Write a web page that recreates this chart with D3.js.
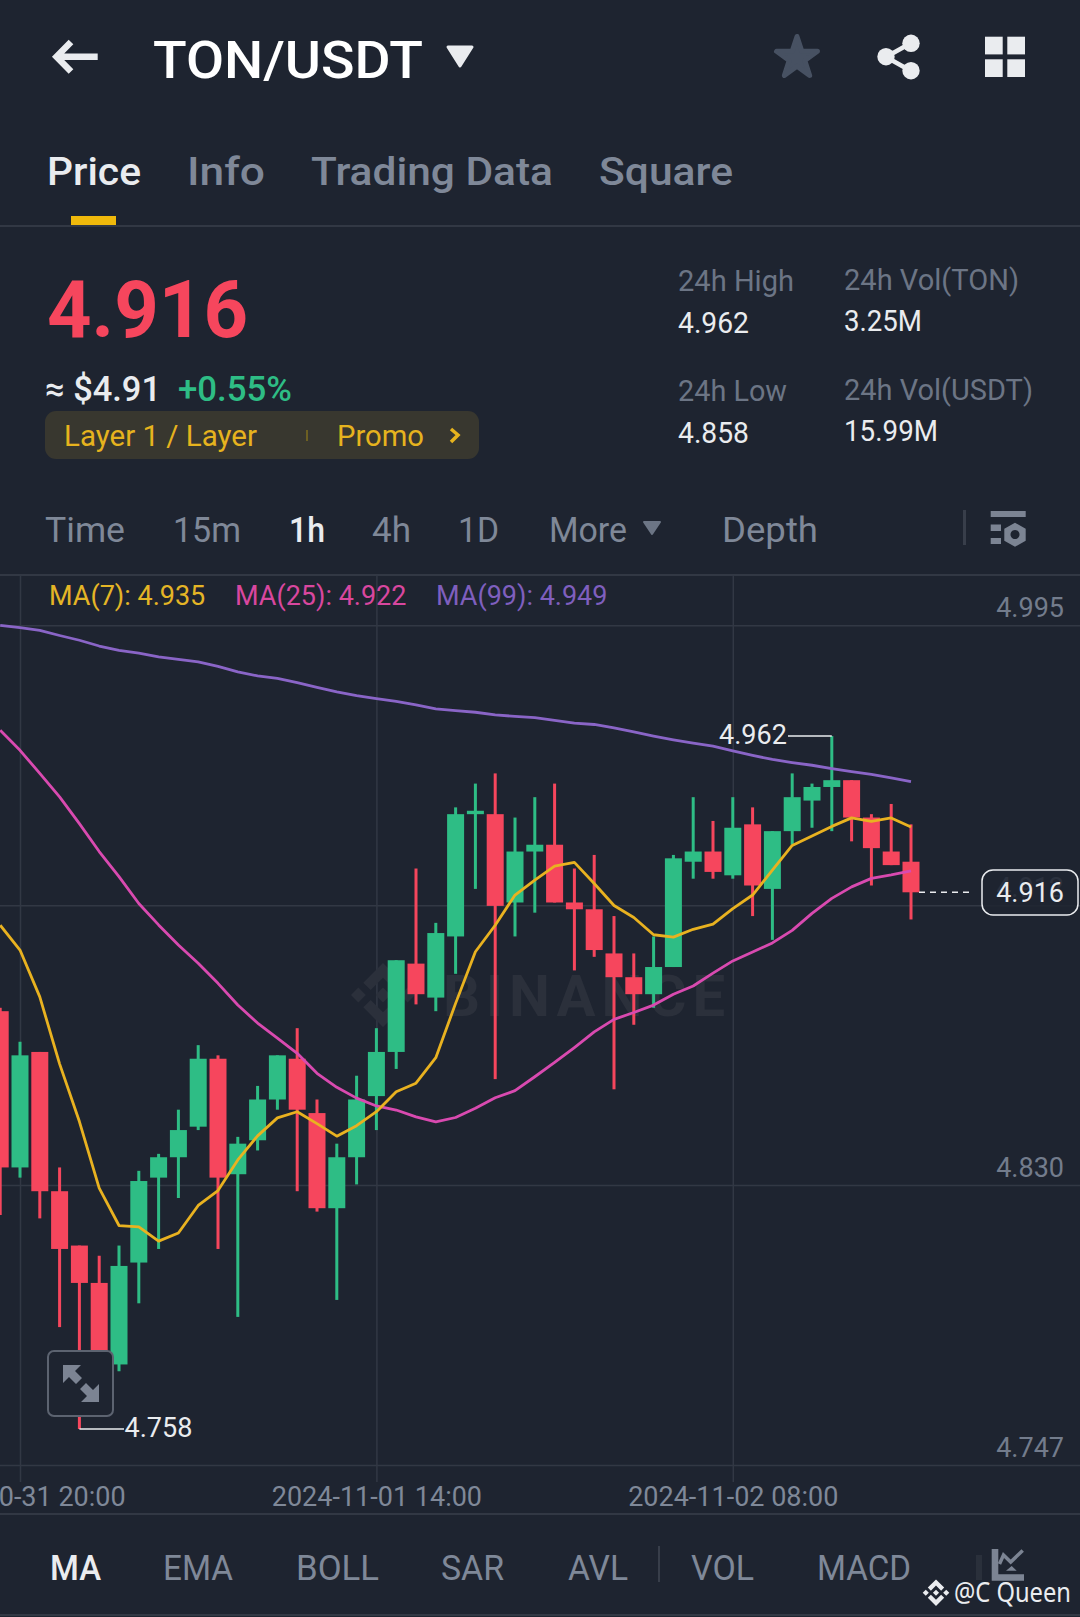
<!DOCTYPE html>
<html>
<head>
<meta charset="utf-8">
<script src="https://cdn.jsdelivr.net/npm/d3@7/dist/d3.min.js"></script>
<style>
  html, body { margin: 0; padding: 0; background: #1e2430; overflow: hidden; }
  svg { display: block; font-family: Roboto, sans-serif; }
</style>
</head>
<body>
<svg id="chart" width="1080" height="1617"></svg>
<script>
// 1h candles, left to right
var opens = [4.881,4.835,4.869,4.828,4.812,4.801,4.777,4.807,4.832,4.838,4.847,4.867,4.833,4.843,4.855,4.867,4.851,4.823,4.838,4.856,4.869,4.895,4.885,4.903,4.939,4.939,4.913,4.928,4.930,4.913,4.911,4.898,4.891,4.886,4.894,4.925,4.928,4.921,4.936,4.917,4.934,4.943,4.947,4.949,4.938,4.928,4.925];
var highs = [4.882,4.872,4.869,4.835,4.812,4.809,4.812,4.834,4.839,4.852,4.871,4.868,4.844,4.859,4.868,4.876,4.855,4.842,4.862,4.876,4.896,4.923,4.907,4.941,4.948,4.951,4.938,4.944,4.948,4.923,4.927,4.909,4.898,4.903,4.927,4.944,4.937,4.944,4.941,4.934,4.951,4.948,4.962,4.949,4.939,4.942,4.936];
var lows = [4.821,4.832,4.820,4.788,4.758,4.773,4.775,4.795,4.811,4.826,4.846,4.811,4.791,4.840,4.852,4.828,4.822,4.796,4.830,4.846,4.864,4.883,4.881,4.892,4.917,4.861,4.903,4.910,4.913,4.893,4.897,4.858,4.877,4.882,4.894,4.920,4.920,4.920,4.909,4.902,4.930,4.935,4.934,4.931,4.918,4.924,4.908];
var closes = [4.835,4.868,4.828,4.811,4.801,4.777,4.806,4.831,4.838,4.846,4.867,4.832,4.842,4.855,4.868,4.852,4.823,4.838,4.855,4.869,4.896,4.886,4.904,4.939,4.940,4.912,4.928,4.930,4.913,4.911,4.899,4.891,4.886,4.894,4.926,4.928,4.922,4.935,4.918,4.934,4.944,4.947,4.949,4.938,4.929,4.924,4.916];

var ma7 = [4.9063,4.8990,4.8852,4.8655,4.8485,4.8289,4.8179,4.8175,4.8133,4.8157,4.8238,4.8282,4.8372,4.8443,4.8496,4.8514,4.8479,4.8442,4.8473,4.8514,4.8573,4.8598,4.8673,4.8833,4.8985,4.9063,4.9152,4.9196,4.9237,4.9248,4.9186,4.9121,4.9086,4.9035,4.9028,4.9051,4.9066,4.9112,4.9152,4.9225,4.9298,4.9326,4.9354,4.9379,4.9369,4.9379,4.9352];
var ma25 = [4.9637,4.9578,4.9510,4.9441,4.9362,4.9280,4.9206,4.9127,4.9064,4.9005,4.8951,4.8892,4.8828,4.8775,4.8731,4.8686,4.8627,4.8586,4.8554,4.8531,4.8519,4.8499,4.8484,4.8497,4.8524,4.8555,4.8576,4.8617,4.8659,4.8703,4.8749,4.8786,4.8806,4.8828,4.8860,4.8884,4.8922,4.8958,4.8984,4.9011,4.9048,4.9098,4.9142,4.9176,4.9201,4.9211,4.9223];
var ma99 = [4.9946,4.9939,4.9931,4.9916,4.9902,4.9885,4.9872,4.9864,4.9853,4.9846,4.9838,4.9825,4.9809,4.9797,4.9790,4.9777,4.9763,4.9750,4.9739,4.9730,4.9722,4.9712,4.9700,4.9695,4.9690,4.9682,4.9678,4.9674,4.9666,4.9658,4.9654,4.9644,4.9632,4.9620,4.9609,4.9599,4.9590,4.9576,4.9563,4.9551,4.9542,4.9534,4.9524,4.9515,4.9507,4.9497,4.9486];

// the printed axis labels are these four rounded to 3 places
var yTicks = [4.9946, 4.9122, 4.8298, 4.7474];
var xTickIndex = [1, 19, 37];
var xTickLabels = ["2024-10-31 20:00", "2024-11-01 14:00", "2024-11-02 08:00"];
var lastPrice = 4.916, highLabel = 4.962, lowLabel = 4.758;

var BG = "#1e2430", GREY = "#7f8898", DIM = "#6c7585", ICON = "#7c8493", WHITE = "#eaecef",
    UP = "#2ebd85", DOWN = "#f6465d", YELLOW = "#f0b90b", RULE = "#323844";

var svg = d3.select("#chart");
svg.append("rect").attr("width", 1080).attr("height", 1617).attr("fill", BG);

// helper for the page chrome, w squeezes the glyphs to the narrower app font
function label(s, x, base, size, fill, weight, w) {
    var t = svg.append("text").attr("x", x).attr("y", base)
        .attr("font-size", size).attr("fill", fill).attr("font-weight", weight || 400).text(s);
    if (w) t.attr("textLength", w).attr("lengthAdjust", "spacingAndGlyphs");
    return t;
}
function rule(y) {
    svg.append("rect").attr("x", 0).attr("y", y - 1).attr("width", 1080).attr("height", 2).attr("fill", RULE);
}
// exchange logo, r is half its width
function logoPath(cx, cy, r) {
    var k = r / 13;
    function poly(pts) {
        return "M" + pts.map(function (p) { return (cx + p[0] * k) + " " + (cy + p[1] * k); }).join("L") + "Z";
    }
    return poly([[0, -13], [8, -5], [5, -2], [0, -7], [-5, -2], [-8, -5]]) +
        poly([[0, 13], [8, 5], [5, 2], [0, 7], [-5, 2], [-8, 5]]) +
        poly([[-13, 0], [-10, -3], [-7, 0], [-10, 3]]) +
        poly([[13, 0], [10, -3], [7, 0], [10, 3]]) +
        poly([[0, -3], [3, 0], [0, 3], [-3, 0]]);
}

/* ---------- header ---------- */
svg.append("path").attr("d", "M97.7 56.7H58M71 42L56.5 56.7L71 71.5").attr("fill", "none")
    .attr("stroke", WHITE).attr("stroke-width", 6.5);
label("TON/USDT", 153, 78, 52, "#ffffff", 500, 270);
svg.append("path").attr("d", "M448 47H472L460 66Z").attr("fill", WHITE).attr("stroke", WHITE)
    .attr("stroke-width", 3).attr("stroke-linejoin", "round");

svg.append("path").attr("d", d3.symbol(d3.symbolStar).size(520)())
    .attr("transform", "translate(797,58)").attr("fill", "#475162").attr("stroke", "#475162")
    .attr("stroke-width", 5).attr("stroke-linejoin", "round");

svg.append("path").attr("d", "M911 43L886 57L911 71").attr("fill", "none").attr("stroke", WHITE).attr("stroke-width", 4.5);
[[886, 56.7], [911, 43.3], [911, 70.7]].forEach(function (c) {
    svg.append("circle").attr("cx", c[0]).attr("cy", c[1]).attr("r", 8.7).attr("fill", WHITE);
});
[[985, 36.7], [1007.3, 36.7], [985, 59.3], [1007.3, 59.3]].forEach(function (c) {
    svg.append("rect").attr("x", c[0]).attr("y", c[1]).attr("width", 17.7).attr("height", 17.7).attr("fill", WHITE);
});

label("Price", 47, 185, 39, WHITE, 500, 94);
label("Info", 187, 185, 39, GREY, 500, 78);
label("Trading Data", 311, 185, 39, GREY, 500, 242);
label("Square", 599, 185, 39, GREY, 500, 134);
rule(226);
svg.append("rect").attr("x", 71).attr("y", 216).attr("width", 45).attr("height", 9).attr("fill", YELLOW);

/* ---------- price block ---------- */
label("4.916", 47, 337, 80, DOWN, 700, 201);
label("≈ $4.91", 45, 401, 35, WHITE, 500, 116);
label("+0.55%", 178, 401, 35, UP, 500, 114);

svg.append("rect").attr("x", 45).attr("y", 411).attr("width", 434).attr("height", 48).attr("rx", 11).attr("fill", "#38372f");
label("Layer 1 / Layer", 64, 446, 30, "#e6b31e", 400, 193);
svg.append("rect").attr("x", 306).attr("y", 430).attr("width", 2).attr("height", 11).attr("fill", "#6c5f22");
label("Promo", 337, 446, 30, "#e6b31e", 400, 87);
svg.append("path").attr("d", "M451 429L458 435L451 442").attr("fill", "none").attr("stroke", "#e6b31e").attr("stroke-width", 3.5);

label("24h High", 678, 291, 29, DIM, 400, 116);
label("4.962", 678, 333, 29, WHITE, 400, 71);
label("24h Vol(TON)", 844, 290, 29, DIM, 400, 175);
label("3.25M", 844, 331, 29, WHITE, 400, 78);
label("24h Low", 678, 401, 29, DIM, 400, 109);
label("4.858", 678, 443, 29, WHITE, 400, 71);
label("24h Vol(USDT)", 844, 400, 29, DIM, 400, 189);
label("15.99M", 844, 441, 29, WHITE, 400, 94);

/* ---------- interval row ---------- */
label("Time", 45, 542, 35, GREY, 400, 80);
label("15m", 173, 542, 35, GREY, 400, 68);
label("1h", 289, 542, 35, WHITE, 500, 36);
label("4h", 372, 542, 35, GREY, 400, 39);
label("1D", 458, 542, 35, GREY, 400, 41);
label("More", 549, 542, 35, GREY, 400, 78);
svg.append("path").attr("d", "M644 522H660L652 534Z").attr("fill", DIM).attr("stroke", DIM).attr("stroke-width", 2).attr("stroke-linejoin", "round");
label("Depth", 722, 542, 35, GREY, 400, 96);
svg.append("rect").attr("x", 963).attr("y", 510).attr("width", 3).attr("height", 35).attr("fill", "#383e4a");
// candle settings icon
svg.append("path").attr("fill", ICON).attr("fill-rule", "evenodd")
    .attr("d", "M990.7 511H1025.7V517H990.7ZM990.7 524.5H1001V531H990.7ZM990.7 538H1001V544H990.7Z" +
        "M1015 522.7L1025.7 528.7V540.7L1015 546.7L1004.3 540.7V528.7ZM1015 530a4.5 4.5 0 1 0 .01 0Z");
rule(575);

/* ---------- chart ---------- */
var x = d3.scaleLinear().domain([0, opens.length - 1]).range([0.2, 911]);
var y = d3.scaleLinear().domain([yTicks[3], yTicks[0]]).range([1465, 625.3]);

var grid = svg.append("g");

var yAxis = grid.append("g").attr("transform", "translate(1080,0)")
    .call(d3.axisLeft(y).tickValues(yTicks).tickSize(1080).tickFormat(d3.format(".3f")));
yAxis.select(".domain").remove();
yAxis.selectAll("line").attr("stroke", RULE).attr("stroke-width", 1.5);
yAxis.selectAll("text").attr("x", -16).attr("dy", -8.4).attr("text-anchor", "end")
    .attr("font-size", 27).attr("font-family", "Roboto, sans-serif").attr("fill", "#737c8c");

var xAxis = grid.append("g").attr("transform", "translate(0,1482)")
    .call(d3.axisBottom(x).tickValues(xTickIndex).tickSize(-907)
        .tickFormat(function (d, i) { return xTickLabels[i]; }));
xAxis.select(".domain").remove();
xAxis.selectAll("line").attr("stroke", RULE).attr("stroke-width", 1.5);
xAxis.selectAll("text").attr("y", 24).attr("dy", 0)
    .attr("font-size", 27).attr("font-family", "Roboto, sans-serif").attr("fill", GREY);

// BINANCE watermark behind the candles
var mark = svg.append("g").attr("fill", "#2b303b");
mark.append("path").attr("d", logoPath(383, 995, 32));
mark.append("text").attr("x", 443).attr("y", 1016).attr("font-size", 58).attr("font-weight", 700)
    .attr("textLength", 282).attr("lengthAdjust", "spacing").text("BINANCE");

var candles = svg.append("g").selectAll("g").data(opens).join("g")
    .attr("fill", function (d, i) { return closes[i] >= d ? UP : DOWN; });

candles.append("rect")
    .attr("x", function (d, i) { return x(i) - 1.5; })
    .attr("width", 3)
    .attr("y", function (d, i) { return y(highs[i]); })
    .attr("height", function (d, i) { return y(lows[i]) - y(highs[i]); });

candles.append("rect")
    .attr("x", function (d, i) { return x(i) - 8.5; })
    .attr("width", 17)
    .attr("y", function (d, i) { return y(Math.max(d, closes[i])); })
    .attr("height", function (d, i) { return Math.max(3, Math.abs(y(d) - y(closes[i]))); });

var line = d3.line().x(function (d, i) { return x(i); }).y(function (d) { return y(d); });
[[ma99, "#8a65c7"], [ma25, "#d94ab0"], [ma7, "#e9b220"]].forEach(function (s) {
    svg.append("path").attr("d", line(s[0])).attr("fill", "none")
        .attr("stroke", s[1]).attr("stroke-width", 2.8).attr("stroke-linejoin", "round");
});

// legend
label("MA(7): 4.935", 49, 605, 27, "#e4b526");
label("MA(25): 4.922", 235, 605, 27, "#d8479f");
label("MA(99): 4.949", 436, 605, 27, "#7f5fbe");

// high / low callouts
var iHigh = highs.indexOf(highLabel), iLow = lows.indexOf(lowLabel);
svg.append("line").attr("x1", 788).attr("x2", x(iHigh)).attr("y1", y(highLabel)).attr("y2", y(highLabel))
    .attr("stroke", WHITE).attr("stroke-width", 1.5);
label(highLabel.toFixed(3), 719, y(highLabel) + 7.5, 27, WHITE);
svg.append("line").attr("x1", x(iLow)).attr("x2", 124).attr("y1", y(lowLabel)).attr("y2", y(lowLabel))
    .attr("stroke", WHITE).attr("stroke-width", 1.5);
label(lowLabel.toFixed(3), 124.5, y(lowLabel) + 8, 27, WHITE);

// last price line and box, the 4.912 axis label still shows faintly through it
svg.append("line").attr("x1", x(46) + 8).attr("x2", 974).attr("y1", y(lastPrice)).attr("y2", y(lastPrice))
    .attr("stroke", WHITE).attr("stroke-width", 1.5).attr("stroke-dasharray", "6 5");
svg.append("rect").attr("x", 982).attr("y", 870).attr("width", 96).attr("height", 45).attr("rx", 11)
    .attr("fill", BG).attr("fill-opacity", 0.85).attr("stroke", WHITE).attr("stroke-width", 1.5);
label(lastPrice.toFixed(3), 1064, 902, 27, WHITE).attr("text-anchor", "end");

// expand button sits on top of the candles
svg.append("rect").attr("x", 48).attr("y", 1351).attr("width", 65).attr("height", 65).attr("rx", 6)
    .attr("fill", BG).attr("stroke", "#5c6370").attr("stroke-width", 2);
svg.append("path").attr("fill", ICON)
    .attr("d", "M63 1365H81L75 1371L82 1378L76 1384L69 1377L63 1383Z" +
        "M99 1402H81L87 1396L80 1389L86 1383L93 1390L99 1384Z");

/* ---------- indicator row ---------- */
rule(1514);
label("MA", 50, 1580, 35, WHITE, 500, 51);
label("EMA", 163, 1580, 35, GREY, 400, 70);
label("BOLL", 296, 1580, 35, GREY, 400, 83);
label("SAR", 441, 1580, 35, GREY, 400, 63);
label("AVL", 568, 1580, 35, GREY, 400, 60);
svg.append("rect").attr("x", 658).attr("y", 1546).attr("width", 2).attr("height", 36).attr("fill", "#383e4a");
label("VOL", 691, 1580, 35, GREY, 400, 63);
label("MACD", 817, 1580, 35, GREY, 400, 94);
svg.append("rect").attr("x", 976).attr("y", 1555).attr("width", 6).attr("height", 25).attr("fill", "#2a303b");
svg.append("path").attr("fill", ICON)
    .attr("d", "M991.7 1549H998.3V1574.3H1024V1580.7H991.7ZM1011.7 1566L1016.7 1570.7H1006Z");
svg.append("path").attr("fill", "none").attr("stroke", ICON).attr("stroke-width", 3.5)
    .attr("d", "M999.5 1564L1003.5 1555L1010.7 1562L1022.7 1550.5");

svg.append("path").attr("fill", WHITE).attr("d", logoPath(936, 1592.7, 13.3));
label("@C Queen", 954, 1602, 28, WHITE, 400, 117).attr("font-family", "'Noto Sans', sans-serif");
rule(1615);
</script>
</body>
</html>
